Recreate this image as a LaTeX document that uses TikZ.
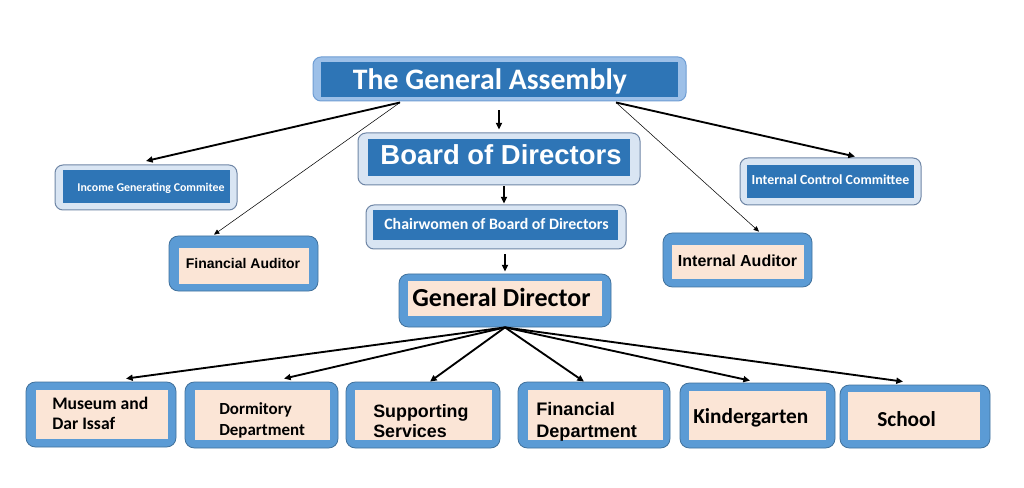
\documentclass[tikz,border=0pt]{standalone}
\usepackage{fontspec}
\setmainfont{Carlito}
\newfontfamily\arialf{Liberation Sans}
\usetikzlibrary{arrows.meta,calc}
\definecolor{dblue}{HTML}{2E75B6}
\definecolor{gafill}{HTML}{9DC0E8}
\definecolor{gaborder}{HTML}{6F9DD3}
\definecolor{lfill}{HTML}{D9E5F3}
\definecolor{lborder}{HTML}{6F86A6}
\definecolor{mfill}{HTML}{5B9BD5}
\definecolor{mborder}{HTML}{41719C}
\definecolor{peach}{HTML}{FBE5D6}
\tikzset{
  oL/.style={draw=lborder, fill=lfill, rounded corners=6pt, line width=0.75pt, inner sep=0pt},
  oM/.style={draw=mborder, fill=mfill, rounded corners=7pt, line width=0.6pt, inner sep=0pt},
  iD/.style={fill=dblue, draw=none, inner sep=0pt},
  iP/.style={fill=peach, draw=none, inner sep=0pt},
  wT/.style={text=white, inner sep=0pt},
  bT/.style={text=black, inner sep=0pt},
  arr/.style={line width=1.4pt, -{Triangle[length=5pt,width=4.5pt]}},
  thinarr/.style={line width=0.4pt, -{Triangle[length=4pt,width=3.5pt]}}
}
\begin{document}
\begin{tikzpicture}[x=0.75pt,y=-0.75pt]
\useasboundingbox[fill=white] (0,0) rectangle (1024,488);

% The General Assembly
\node[oL, fill=gafill, draw=gaborder, minimum width=279.75pt, minimum height=33pt] (ga) at (499.5,79) {};
\node[iD, minimum width=267.75pt, minimum height=26.25pt] (ga-in) at (499.5,79.5) {};
\node[wT, anchor=base, font=\fontsize{22.3}{26}\selectfont\bfseries] (ga-t) at (490,89.5) {The General Assembly};

% Board of Directors
\node[oL, minimum width=211.5pt, minimum height=39pt] (bd) at (499,159) {};
\node[iD, minimum width=196.5pt, minimum height=27.75pt] (bd-in) at (499,157.5) {};
\node[wT, anchor=base, font=\arialf\fontsize{20.6}{24}\selectfont\bfseries] (bd-t) at (501,165) {Board of Directors};

% Chairwomen
\node[oL, minimum width=195pt, minimum height=33pt] (ch) at (496,227) {};
\node[iD, minimum width=183.75pt, minimum height=22.5pt] (ch-in) at (495.5,225) {};
\node[wT, anchor=base, font=\fontsize{11.9}{14}\selectfont\bfseries] (ch-t) at (496.5,230) {Chairwomen of Board of Directors};

% Income Generating Commitee
\node[oL, minimum width=136.5pt, minimum height=33.75pt] (inc) at (146,187.5) {};
\node[iD, minimum width=125.25pt, minimum height=24.75pt] (inc-in) at (146.5,186.5) {};
\node[wT, anchor=base, font=\fontsize{8.9}{11}\selectfont\bfseries] (inc-t) at (151,192) {Income Generating Commitee};

% Internal Control Committee
\node[oL, minimum width=135.75pt, minimum height=35.25pt] (icc) at (830.5,181.5) {};
\node[iD, minimum width=125.25pt, minimum height=24.75pt] (icc-in) at (830.5,181.5) {};
\node[wT, anchor=base, font=\fontsize{10.4}{12}\selectfont\bfseries] (icc-t) at (830.5,185) {Internal Control Committee};

% Financial Auditor
\node[oM, minimum width=111.75pt, minimum height=41.25pt] (fa) at (243.5,263.5) {};
\node[iP, minimum width=97.5pt, minimum height=27pt] (fa-in) at (244,266) {};
\node[bT, anchor=base, font=\arialf\fontsize{10.5}{12}\selectfont\bfseries] (fa-t) at (243,268) {Financial Auditor};

% Internal Auditor
\node[oM, minimum width=111.75pt, minimum height=40.5pt] (ia) at (737.5,260) {};
\node[iP, minimum width=99pt, minimum height=25.5pt] (ia-in) at (738,262) {};
\node[bT, anchor=base, font=\arialf\fontsize{12}{14}\selectfont\bfseries] (ia-t) at (737.5,267) {Internal Auditor};

% General Director
\node[oM, minimum width=159pt, minimum height=39.75pt] (gd) at (505,300.5) {};
\node[iP, minimum width=145.5pt, minimum height=26.25pt] (gd-in) at (505,298.5) {};
\node[bT, anchor=base, font=\fontsize{19.5}{23}\selectfont\bfseries] (gd-t) at (501.5,306) {General Director};

% Bottom row
\node[oM, minimum width=112.5pt, minimum height=48.75pt] (mus) at (101,414.5) {};
\node[iP, minimum width=99pt, minimum height=36.75pt] (mus-in) at (102,414.5) {};
\node[bT, anchor=west, align=left, font=\fontsize{13.2}{15}\selectfont\bfseries] (mus-t) at (52,413) {Museum and\\Dar Issaf};

\node[oM, minimum width=114.75pt, minimum height=49.5pt] (dor) at (261.5,415) {};
\node[iP, minimum width=101.25pt, minimum height=37.5pt] (dor-in) at (262.5,415) {};
\node[bT, anchor=west, align=left, font=\fontsize{12.7}{15.75}\selectfont\bfseries] (dor-t) at (219,420) {Dormitory\\Department};

\node[oM, minimum width=115.5pt, minimum height=49.5pt] (sup) at (423,415) {};
\node[iP, minimum width=102.75pt, minimum height=37.5pt] (sup-in) at (423.5,415) {};
\node[bT, anchor=west, align=left, font=\arialf\fontsize{13.4}{15}\selectfont\bfseries] (sup-t) at (373,421) {Supporting\\Services};

\node[oM, minimum width=114pt, minimum height=49.5pt] (fin) at (594,415) {};
\node[iP, minimum width=101.25pt, minimum height=37.5pt] (fin-in) at (595.5,415) {};
\node[bT, anchor=west, align=left, font=\arialf\fontsize{13.6}{16.5}\selectfont\bfseries] (fin-t) at (536,421.5) {Financial\\Department};

\node[oM, minimum width=116.25pt, minimum height=48.75pt] (kin) at (757.5,415.5) {};
\node[iP, minimum width=102.75pt, minimum height=36.75pt] (kin-in) at (757.5,415.5) {};
\node[bT, anchor=base west, font=\fontsize{16}{19}\selectfont\bfseries] (kin-t) at (693,423) {Kindergarten};

\node[oM, minimum width=112.5pt, minimum height=47.25pt] (sch) at (915,416.5) {};
\node[iP, minimum width=99pt, minimum height=36pt] (sch-in) at (914,416) {};
\node[bT, anchor=base west, font=\fontsize{16}{19}\selectfont\bfseries] (sch-t) at (877,426) {School};

% Connectors
\draw[arr] ($(ga.south)+(-99.5,1)$) -- ($(inc.north)+(0,-3.5)$);
\draw[thinarr] ($(ga.south)+(-99.5,1)$) -- ($(fa.north)+(-29.5,-1)$);
\draw[arr] ($(ga.south)+(-0.5,9)$) -- ($(bd.north)+(0,-3)$);
\draw[arr] ($(ga.south)+(116.5,1)$) -- ($(icc.north)+(24.5,-1)$);
\draw[thinarr] ($(ga.south)+(116.5,1)$) -- ($(ia.north)+(21.5,-1)$);
\draw[arr] ($(bd.south)+(5,1)$) -- ($(ch.north)+(8,-1)$);
\draw[arr] ($(ch.south)+(9,5)$) -- ($(gd.north)+(0,-2)$);

\draw[arr] (gd.south) -- ($(mus.north)+(25,-3)$);
\draw[arr] (gd.south) -- ($(dor.north)+(22.5,-3)$);
\draw[arr] (gd.south) -- ($(sup.north)+(7,0)$);
\draw[arr] (gd.south) -- ($(fin.north)+(-10,0)$);
\draw[arr] (gd.south) -- ($(kin.north)+(-7.5,-2)$);
\draw[arr] (gd.south) -- ($(sch.north)+(-12,-3)$);
\end{tikzpicture}
\end{document}
